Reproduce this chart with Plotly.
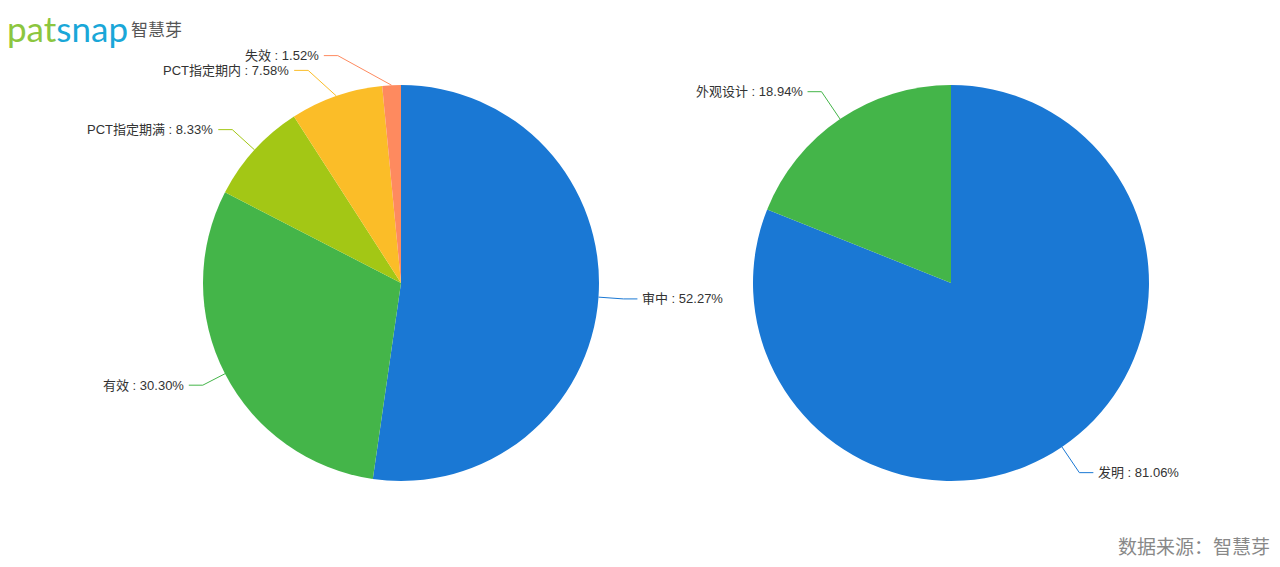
import math
import plotly.graph_objects as go

# ---- data ----
status_labels = ["审中", "有效", "PCT指定期满", "PCT指定期内", "失效"]
status_counts = [69, 40, 11, 10, 2]
type_labels = ["发明", "外观设计"]
type_counts = [107, 25]

# ---- style ----
W, H = 1280, 567
status_colors = ["#1a78d4", "#44b549", "#a3c715", "#fbbd28", "#fe8a5f"]
type_colors = ["#1a78d4", "#44b549"]
# pie centres / radius in pixels
pies = [
    dict(cx=401, cy=283, r=198),
    dict(cx=951, cy=283, r=198),
]
# label layout adjustments (overlap avoidance like the original), per slice
status_adjust = [(0, 25), (0, 25), (0, 30), (-4.5, 34), (-12.8, 38)]
type_adjust = [(0, 31), (0, 33)]
LEN2 = 14
GAP = 3
FONT = "Liberation Sans, Noto Sans CJK SC, sans-serif"


def px(x):
    return x / W


def py(y):
    return 1 - y / H


def domain(p):
    return dict(x=[px(p["cx"] - p["r"]), px(p["cx"] + p["r"])],
                y=[py(p["cy"] + p["r"]), py(p["cy"] - p["r"])])


fig = go.Figure()
fig.add_trace(go.Pie(labels=status_labels, values=status_counts, sort=False,
                     direction="clockwise", rotation=0, textinfo="none",
                     marker=dict(colors=status_colors, line=dict(width=0)),
                     domain=domain(pies[0]), showlegend=False))
fig.add_trace(go.Pie(labels=type_labels, values=type_counts, sort=False,
                     direction="clockwise", rotation=0, textinfo="none",
                     marker=dict(colors=type_colors, line=dict(width=0)),
                     domain=domain(pies[1]), showlegend=False))

shapes = []
annotations = []


def add_labels(p, labels, values, colors, adjust):
    total = sum(values)
    cum = 0
    for lab, v, col, (dang, dr) in zip(labels, values, colors, adjust):
        mid = 360 * (cum + v / 2) / total
        cum += v
        t = math.radians(mid)
        ex, ey = p["cx"] + p["r"] * math.sin(t), p["cy"] - p["r"] * math.cos(t)
        t2 = math.radians(mid + dang)
        R = p["r"] + dr
        bx, by = p["cx"] + R * math.sin(t2), p["cy"] - R * math.cos(t2)
        side = 1 if math.sin(t2) >= 0 else -1
        hx = bx + side * LEN2
        shapes.append(dict(type="line", xref="paper", yref="paper",
                           x0=px(ex), y0=py(ey), x1=px(bx), y1=py(by),
                           line=dict(color=col, width=1)))
        shapes.append(dict(type="line", xref="paper", yref="paper",
                           x0=px(bx), y0=py(by), x1=px(hx), y1=py(by),
                           line=dict(color=col, width=1)))
        pct = 100 * v / total
        annotations.append(dict(xref="paper", yref="paper", x=px(hx + side * GAP), y=py(by),
                                xanchor="left" if side > 0 else "right", yanchor="middle",
                                text=f"{lab} : {pct:.2f}%", showarrow=False,
                                font=dict(family=FONT, size=13, color="#333333")))


add_labels(pies[0], status_labels, status_counts, status_colors, status_adjust)
add_labels(pies[1], type_labels, type_counts, type_colors, type_adjust)

# logo
annotations.append(dict(xref="paper", yref="paper", x=px(5), y=py(28), xanchor="left", yanchor="middle",
                        showarrow=False,
                        text="<span style='color:#8cc63f'>pat</span><span style='color:#1aa7d8'>snap</span>",
                        font=dict(family="Lato, Noto Sans, sans-serif", size=35)))
annotations.append(dict(xref="paper", yref="paper", x=px(129), y=py(29), xanchor="left", yanchor="middle",
                        showarrow=False, text="智慧芽",
                        font=dict(family="Noto Sans CJK SC, sans-serif", size=17, color="#555555")))
# source
annotations.append(dict(xref="paper", yref="paper", x=px(1272), y=py(545), xanchor="right", yanchor="middle",
                        showarrow=False, text="数据来源：智慧芽",
                        font=dict(family="Noto Sans CJK SC, sans-serif", size=19, color="#888888")))

fig.update_layout(width=W, height=H, margin=dict(l=0, r=0, t=0, b=0),
                  paper_bgcolor="white", plot_bgcolor="white",
                  shapes=shapes, annotations=annotations)
fig.write_html("out.html", config={"displayModeBar": False},
               post_script="document.body.style.margin='0';document.body.style.overflow='hidden';")
